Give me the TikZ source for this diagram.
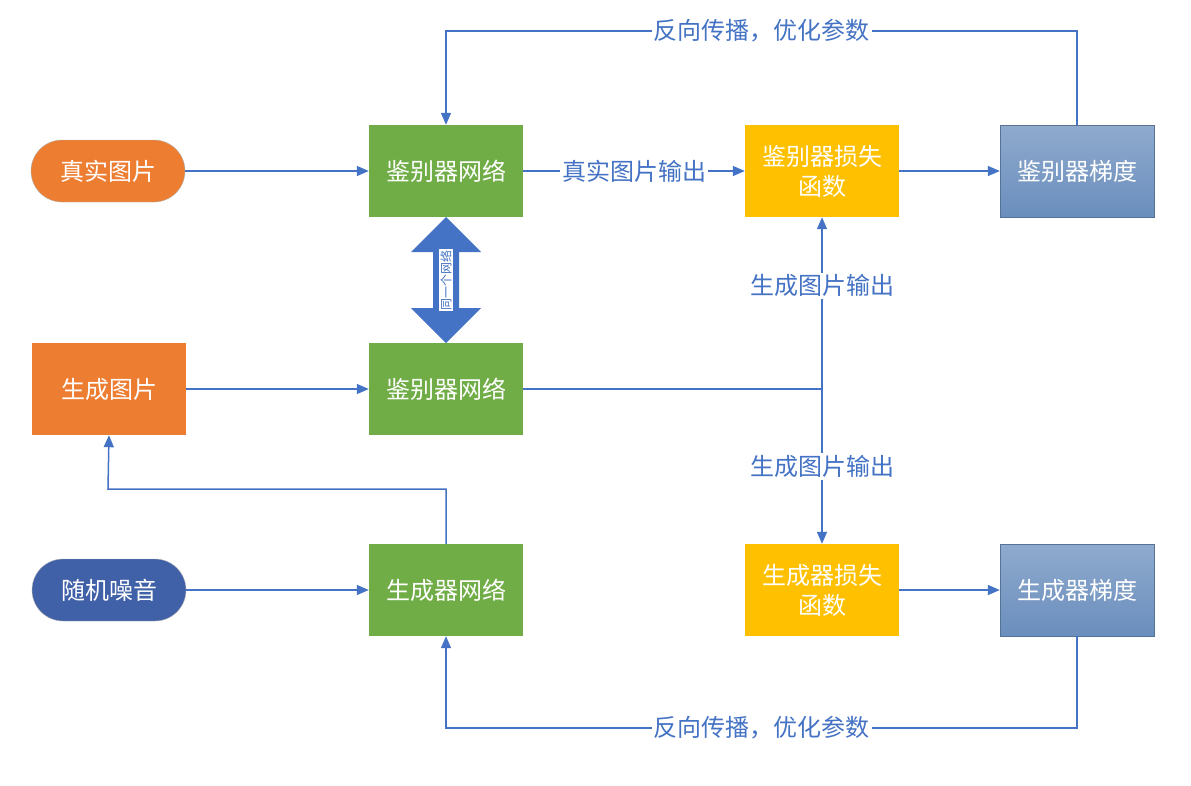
\documentclass[tikz,border=0pt]{standalone}
\usepackage{fontspec}
\setmainfont{Noto Sans CJK SC}
\usetikzlibrary{arrows.meta}
\definecolor{ln}{HTML}{4472C4}
\definecolor{gr}{HTML}{70AD47}
\definecolor{og}{HTML}{ED7D31}
\definecolor{yl}{HTML}{FFC000}
\definecolor{bg}{HTML}{6A8EBD}
\definecolor{nz}{HTML}{4060A8}
\begin{document}
\begin{tikzpicture}[x=1pt,y=-1pt,
  box/.style={minimum width=154pt,minimum height=92pt,inner sep=2pt,text=white,font=\fontsize{24}{30}\selectfont,align=center},
  net/.style={box,fill=gr},
  loss/.style={box,fill=yl,text width=140pt},
  grad/.style={box,draw=bg!80!black,top color=bg!75!white,bottom color=bg},
  pill/.style={box,minimum height=62pt,rounded corners=31pt,draw=white!70!black},
  lbl/.style={fill=white,text=ln,font=\fontsize{24}{30}\selectfont,inner sep=2pt},
  arr/.style={draw=ln,line width=1.5pt,-{Triangle[length=12pt,width=10pt]}}]
\useasboundingbox (0,0) rectangle (1191,785);
\node[pill,fill=og] (real) at (108,171) {真实图片};
\node[net] (d1) at (446,171) {鉴别器网络};
\node[loss] (dl) at (822,171) {鉴别器损失\\函数};
\node[grad] (dg) at (1077,171) {鉴别器梯度};
\node[box,fill=og] (fake) at (109,389) {生成图片};
\node[net] (d2) at (446,389) {鉴别器网络};
\node[pill,fill=nz] (noise) at (109,590) {随机噪音};
\node[net] (g) at (446,590) {生成器网络};
\node[loss] (gl) at (822,590) {生成器损失\\函数};
\node[grad] (gg) at (1077,590) {生成器梯度};
\coordinate (j) at (822,389);
% shared network arrow
\fill[ln] (446,217) -- (481,252) -- (459,252) -- (459,308) -- (481,308) -- (446,343)
  -- (411,308) -- (433,308) -- (433,252) -- (411,252) -- cycle;
\node[fill=white,text=ln,rotate=90,font=\fontsize{12}{14}\selectfont,inner sep=1pt] (same) at (446,280) {同一个网络};
\draw[arr] (real) -- (d1);
\draw[arr] (d1) -- node[lbl] {真实图片输出} (dl);
\draw[arr] (dl) -- (dg);
\draw[arr] (dg.north) |- (446,31) node[lbl,pos=0.75] {反向传播，优化参数} -- (d1.north);
\draw[arr] (fake) -- (d2);
\draw[draw=ln,line width=1.5pt] (d2) -- (j);
\draw[arr] (j) -- node[lbl,pos=0.6] {生成图片输出} (dl);
\draw[arr] (j) -- node[lbl,pos=0.5] {生成图片输出} (gl);
\draw[arr] (noise) -- (g);
\draw[arr] (g.north) |- (108,489) -- (fake.south);
\draw[arr] (gl) -- (gg);
\draw[arr] (gg.south) |- (446,728) node[lbl,pos=0.75] {反向传播，优化参数} -- (g.south);
\end{tikzpicture}
\end{document}
